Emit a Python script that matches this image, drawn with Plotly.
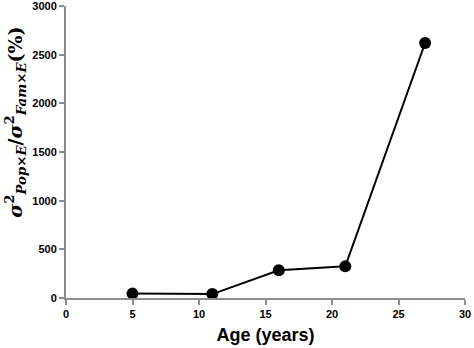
import plotly.graph_objects as go

# Age at measurement (years) and ratio of variance components (%)
age_years = [5, 11, 16, 21, 27]
ratio_pct = [45, 40, 285, 325, 2620]

x_ticks = [0, 5, 10, 15, 20, 25, 30]
y_ticks = [0, 500, 1000, 1500, 2000, 2500, 3000]

axis_grey = "#8c8c8c"
tick_font = dict(family="Arial, Liberation Sans, sans-serif", size=11, color="black")

fig = go.Figure()
fig.add_trace(go.Scatter(
    x=age_years,
    y=ratio_pct,
    mode="lines+markers",
    line=dict(color="black", width=2),
    marker=dict(color="black", size=12),
    cliponaxis=False,
    showlegend=False,
))

fig.update_xaxes(
    range=[0, 30],
    automargin=False,
    tickvals=x_ticks,
    ticktext=[f"<b>{v}</b>" for v in x_ticks],
    tickfont=tick_font,
    ticklabeloverflow="allow",
    showline=True, linecolor=axis_grey, linewidth=2,
    ticks="outside", tickcolor=axis_grey, ticklen=5, tickwidth=1.5,
    showgrid=False, zeroline=False,
    title=dict(text="<b>Age (years)</b>",
               font=dict(family="Arial, Liberation Sans, sans-serif", size=18, color="black"),
               standoff=9),
)
fig.update_yaxes(
    range=[0, 3000],
    automargin=False,
    tickvals=y_ticks,
    ticktext=[f"<b>{v}</b>" for v in y_ticks],
    tickfont=tick_font,
    ticklabeloverflow="allow",
    showline=True, linecolor=axis_grey, linewidth=2,
    ticks="outside", tickcolor=axis_grey, ticklen=5, tickwidth=1.5,
    showgrid=False, zeroline=False,
)

# Rotated variance-ratio label on the left
fig.add_annotation(
    text=("<b><i>σ</i><sup>2</sup><sub><i>Pop</i>×<i>E</i></sub>"
          "/<i>σ</i><sup>2</sup><sub><i>Fam</i>×<i>E</i></sub>(%)</b>"),
    xref="paper", yref="paper",
    x=0, y=0.6,
    xanchor="center", yanchor="middle",
    xshift=-50,
    textangle=-90,
    showarrow=False,
    font=dict(family="DejaVu Serif, Liberation Serif, serif", size=19, color="black"),
)

fig.update_layout(
    width=474, height=348,
    margin=dict(l=66, r=9, t=6, b=50),
    plot_bgcolor="white",
    paper_bgcolor="white",
)

fig.write_html("out.html")
